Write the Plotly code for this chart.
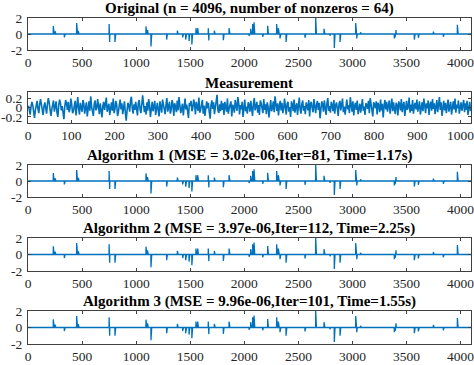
import numpy as np
import plotly.graph_objects as go

N = 4096
M = 1024
spike_pos = [234, 250, 336, 450, 465, 750, 755, 804, 1091, 1105, 1137, 1282,
             1381, 1430, 1458, 1489, 1515, 1553, 1569, 1667, 1672, 1723, 1806, 1859,
             2044, 2059, 2077, 2090, 2170, 2216, 2299, 2315, 2330, 2386, 2561, 2660,
             2737, 2792, 2832, 2885, 3030, 3040, 3075, 3387, 3395, 3403, 3572, 3609,
             3748, 3840, 3970]
spike_val = [1.0, 0.35, -0.43, 1.38, 0.4, 1.25, -1.0, -1.0, 0.95, 0.5, -1.55, -0.7,
             0.43, -0.43, -0.7, -0.86, -1.3, 0.73, 0.73, 0.73, -0.8, 0.43, -0.77, 0.73,
             -0.26, 0.65, 1.25, 1.46, -0.34, 1.03, 1.25, 0.73, -0.56, -1.0, -0.47, 2.0,
             0.65, -0.2, -1.76, -1.0, 1.38, -0.56, 0.2, -0.56, -0.4, 0.5, -0.7, -0.47,
             0.3, -0.34, 1.16]
alg1_val = spike_val
alg2_val = spike_val
alg3_val = spike_val

measurement = [
 0.04,-0.08,-0.15,0.02,0.12,0.05,-0.10,-0.22,-0.06,0.09,0.14,-0.03,-0.12,0.07,0.18,0.06,
 -0.05,-0.16,0.03,0.11,-0.02,-0.13,0.08,0.20,0.10,-0.07,-0.18,-0.04,0.06,0.15,-0.09,0.01,
 0.13,-0.11,-0.20,0.05,0.17,0.09,-0.06,0.03,-0.14,-0.25,0.02,0.16,0.08,-0.05,0.12,-0.10,
 -0.03,0.19,0.07,-0.12,-0.08,0.04,0.14,-0.17,0.06,0.22,-0.02,-0.15,0.10,0.03,-0.09,0.16,
 0.08,-0.13,-0.04,0.11,-0.19,0.05,0.13,-0.07,0.24,0.02,-0.11,-0.18,0.07,0.15,-0.06,-0.01,
 0.18,0.06,-0.14,0.09,-0.08,-0.21,0.03,0.12,-0.05,0.16,0.21,-0.09,-0.02,0.08,-0.16,0.04,
 0.11,-0.07,0.19,-0.12,-0.03,0.14,0.06,-0.18,-0.10,0.05,0.17,-0.04,0.09,-0.14,0.02,0.13,
 -0.11,-0.28,-0.06,0.10,0.04,-0.09,0.15,0.23,-0.02,-0.13,0.07,-0.05,0.12,0.01,-0.17,0.09,
 0.16,-0.04,-0.12,0.06,0.26,0.08,-0.10,0.03,-0.15,0.11,-0.07,0.18,0.05,-0.20,-0.03,0.12,
 -0.08,0.07,0.14,-0.16,0.02,0.10,-0.06,-0.19,0.13,0.04,-0.11,0.17,0.08,-0.02,-0.14,0.06,
 0.20,-0.09,0.03,0.12,-0.13,-0.05,0.16,0.07,-0.18,0.09,0.01,-0.10,0.15,-0.06,0.22,0.05,
 -0.12,-0.03,0.08,-0.17,0.11,0.19,-0.04,0.06,-0.09,-0.22,0.10,0.03,0.14,-0.08,-0.01,0.17,
 0.07,-0.15,0.12,0.02,-0.07,0.21,-0.11,-0.05,0.09,0.16,-0.13,0.04,-0.18,0.08,0.13,-0.02,
 0.10,-0.10,-0.24,0.05,0.15,-0.03,0.11,-0.14,0.02,0.18,0.27,-0.06,-0.12,0.07,-0.08,0.14,
 -0.05,0.09,-0.16,0.12,0.04,-0.09,0.19,-0.13,-0.02,0.08,0.13,-0.19,0.06,0.01,-0.11,0.16,
 0.03,-0.07,0.22,0.10,-0.15,0.05,-0.04,0.12,-0.20,0.07,0.17,-0.08,0.02,-0.13,0.11,0.06,
 -0.09,0.14,-0.03,-0.18,0.08,0.20,-0.06,0.03,0.12,-0.11,0.05,-0.16,0.15,0.09,-0.02,-0.12,
 0.18,-0.05,0.07,-0.14,0.11,0.02,-0.21,0.06,0.16,-0.08,-0.01,0.13,-0.10,0.24,0.04,-0.07,
 0.09,-0.17,0.03,0.14,-0.06,0.10,-0.12,-0.03,0.19,0.05,-0.15,0.08,0.12,-0.09,0.01,-0.20,
 0.13,0.06,-0.08,0.17,-0.11,0.02,0.09,-0.16,0.05,0.21,-0.04,-0.13,0.07,0.15,-0.07,0.03,
 -0.14,0.11,0.04,-0.06,0.16,-0.19,0.08,0.12,-0.02,-0.10,0.18,0.01,-0.12,0.06,0.14,-0.05,
 0.10,-0.23,0.02,0.13,0.07,-0.09,0.15,-0.04,-0.16,0.09,0.20,-0.07,0.03,-0.11,0.12,0.05,
 -0.08,0.16,-0.13,0.04,0.11,-0.02,-0.18,0.08,0.14,-0.06,0.06,0.19,-0.10,0.02,-0.15,0.09,
 0.17,-0.04,0.05,-0.12,0.22,0.07,-0.09,0.13,-0.17,0.03,0.10,-0.05,0.15,-0.14,0.04,0.08,
 -0.11,0.12,0.18,-0.07,0.02,-0.16,0.09,0.06,-0.03,0.14,-0.12,0.20,0.05,-0.08,-0.19,0.11,
 0.07,-0.02,0.13,-0.15,0.10,0.04,-0.10,0.17,-0.06,0.08,-0.21,0.03,0.16,-0.04,0.12,-0.09,
 0.02,0.15,-0.13,0.06,0.19,-0.08,0.11,-0.03,-0.14,0.10,0.05,-0.17,0.13,0.07,-0.06,0.18,
 -0.10,0.04,0.12,-0.18,0.08,0.14,-0.05,0.02,0.21,-0.11,0.06,-0.07,0.16,-0.13,0.03,0.10,
 -0.04,0.17,-0.09,0.07,0.13,-0.15,0.01,0.11,-0.08,0.19,0.05,-0.12,0.09,-0.02,0.15,-0.16,
 0.06,0.12,-0.07,0.18,-0.03,0.09,-0.14,0.04,0.16,-0.10,0.08,0.22,-0.05,0.11,-0.18,0.03,
 0.14,-0.06,0.10,-0.12,0.05,0.17,-0.09,0.02,0.12,-0.15,0.07,0.13,-0.04,0.19,-0.11,0.06,
 -0.02,0.15,-0.13,0.08,0.11,-0.07,0.04,0.16,-0.10,0.09,-0.05,0.14,-0.16,0.06,0.12,-0.08]

titles = ["Original (n = 4096, number of nonzeros = 64)",
          "Measurement",
          "Algorithm 1 (MSE = 3.02e-06,Iter=81, Time=1.17s)",
          "Algorithm 2 (MSE = 3.97e-06,Iter=112, Time=2.25s)",
          "Algorithm 3 (MSE = 9.96e-06,Iter=101, Time=1.55s)"]

W, H = 474, 365
boxes = [(18, 50), (92, 123), (165, 197), (238, 271), (311, 344)]
x0, x1 = 28, 471
BLUE = '#0072BD'
FONT = 'Liberation Serif, Times New Roman, serif'


def sparse_signal(pos, val):
    s = np.zeros(N)
    s[np.array(pos) - 1] = val
    return s

signals = [sparse_signal(spike_pos, spike_val), None,
           sparse_signal(spike_pos, alg1_val),
           sparse_signal(spike_pos, alg2_val),
           sparse_signal(spike_pos, alg3_val)]

fig = go.Figure()
layout = dict(width=W, height=H, margin=dict(l=0, r=0, t=0, b=0),
              paper_bgcolor='white', plot_bgcolor='white', showlegend=False,
              font=dict(family=FONT, size=13, color='#262626'))
annotations = []
for i in range(5):
    ax = '' if i == 0 else str(i + 1)
    top, bot = boxes[i]
    if i == 1:
        xs = np.arange(len(measurement)) * (M // len(measurement)) + 1
        ys = measurement
        xr, xt = [0, M], list(range(0, 1001, 100))
        yr, yt, ytt = [-0.33, 0.33], [-0.2, 0, 0.2], ['-0.2', '0', '0.2']
        lw = 1.6
    else:
        xs = np.arange(1, N + 1)
        ys = signals[i]
        xr, xt = [0, N], list(range(0, 4001, 500))
        yr, yt, ytt = [-2, 2], [-2, 0, 2], ['-2', '0', '2']
        lw = 1.3
    fig.add_trace(go.Scatter(x=xs, y=ys, mode='lines',
                             line=dict(color=BLUE, width=lw),
                             xaxis='x' + ax, yaxis='y' + ax, hoverinfo='skip'))
    common = dict(showline=True, linecolor='#404040', linewidth=1, mirror='ticks',
                  ticks='inside', ticklen=3, tickcolor='#404040', showgrid=False,
                  zeroline=False, automargin=False, ticklabeloverflow='allow',
                  tickfont=dict(family=FONT, size=13.5, color='#262626'))
    layout['xaxis' + ax] = dict(domain=[x0 / W, x1 / W], range=xr, tickvals=xt,
                                anchor='y' + ax, **common)
    layout['yaxis' + ax] = dict(domain=[1 - bot / H, 1 - top / H], range=yr,
                                tickvals=yt, ticktext=ytt, anchor='x' + ax,
                                ticklabelstandoff=2, **common)
    annotations.append(dict(text='<b>' + titles[i] + '</b>', x=(x0 + x1) / 2 / W,
                            y=1 - (top - 9.5) / H, xref='paper', yref='paper',
                            xanchor='center', yanchor='middle', showarrow=False,
                            font=dict(family=FONT, size=15, color='black')))
layout['annotations'] = annotations
fig.update_layout(**layout)
fig.write_html('out.html', config={'displayModeBar': False},
               post_script="document.body.style.margin='0';document.body.style.padding='0';")
